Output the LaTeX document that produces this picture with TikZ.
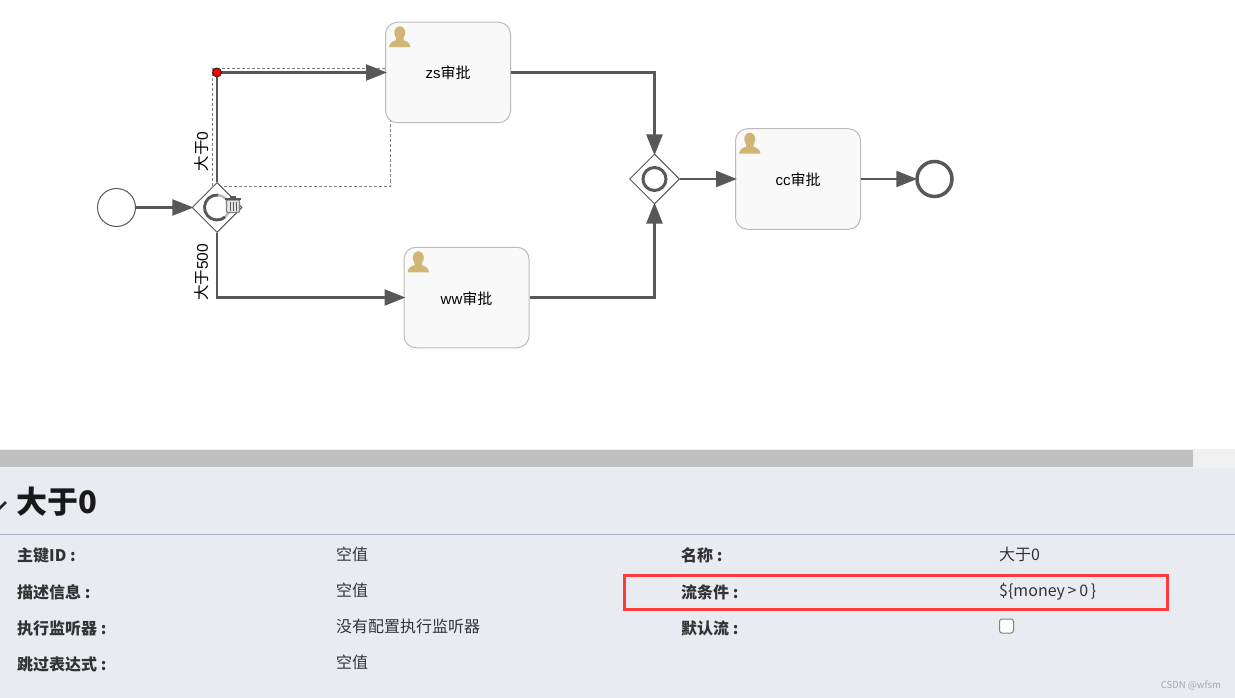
\documentclass[tikz,border=0pt]{standalone}
\usepackage{fontspec}
\setmainfont{Noto Sans CJK SC}
\newfontfamily\arialfont{Liberation Sans}
\usetikzlibrary{arrows.meta,shapes.geometric}
\definecolor{flowgray}{HTML}{585858}
\definecolor{panelbg}{HTML}{E8ECF1}
\definecolor{barbg}{HTML}{BFBFBF}
\definecolor{taskfill}{HTML}{F9F9F9}
\definecolor{taskline}{HTML}{BBBBBB}
\definecolor{usergold}{HTML}{D1B574}
\definecolor{markred}{HTML}{FF3B3B}
\definecolor{textdark}{HTML}{333333}
\definecolor{rulegray}{HTML}{A9ADC0}
\begin{document}
\begin{tikzpicture}[
x=1pt,y=-1pt,
flow/.style={draw=flowgray,line width=2.4pt,shorten >=-2pt,-{Triangle[length=21pt,width=16pt]}},
usertask/.style={draw=taskline,fill=taskfill,line width=1pt,rounded corners=12pt,
  minimum width=125pt,minimum height=100.5pt,text height=14pt,text depth=1pt,
  font=\fontsize{15}{17}\selectfont},
gateway/.style={diamond,aspect=1,draw=flowgray,fill=white,line width=1pt,inner sep=0pt,
  minimum width=50pt,minimum height=50pt},
edgelabel/.style={rotate=90,font=\fontsize{15.5}{17}\selectfont,inner sep=0pt},
fieldname/.style={anchor=base west,inner sep=0pt,text=textdark,font=\fontsize{16}{18}\selectfont\bfseries},
fieldvalue/.style={anchor=base west,inner sep=0pt,text=textdark,font=\fontsize{16}{18}\selectfont},
usericon/.pic={
  \fill[usergold] (14.8,11) ellipse [x radius=5.5,y radius=6.5];
  \fill[usergold] (11,15) -- (18.5,15) -- (18.5,18.5) .. controls (22,19.5) and (25,21) .. (25.5,25.5)
    -- (4,25.5) .. controls (4.5,21) and (7.5,19.5) .. (11,18.5) -- cycle;},
trashicon/.pic={
  \draw[gray,line width=1.2pt,fill=white!80!gray,rounded corners=1pt] (-6.5,-5) rectangle (6.5,7.5);
  \draw[flowgray,line width=1.2pt] (-8,-6) -- (8,-6) (-3,-8) -- (3,-8);
  \foreach \Val in {-3,0,3}
    \draw[flowgray,line width=1pt] (\Val,-3) -- ++(0,9);}
]
\fill[white] (0,0) rectangle (1235,698);
\useasboundingbox (0,0) rectangle (1235,698);

% selection around the upper flow
\draw[gray,line width=.8pt,densely dashed] (212,68) rectangle (390.5,186);

\node[circle,draw=flowgray,fill=white,line width=1pt,minimum size=38pt,inner sep=0pt] (start) at (116.5,207.5) {};
\node[gateway] (gwsplit) at (217,207.5) {};
\node[gateway] (gwjoin) at (654.5,179) {};
\node[usertask] (zs) at (448,72.5) {{\arialfont zs}审批};
\node[usertask] (ww) at (466.5,297.5) {{\arialfont ww}审批};
\node[usertask] (cc) at (798,179) {{\arialfont cc}审批};
\node[circle,draw=flowgray,fill=white,line width=3.5pt,minimum size=35pt,inner sep=0pt] (end) at (934.5,179) {};

\path
  (zs.north west) pic {usericon}
  (ww.north west) pic {usericon}
  (cc.north west) pic {usericon};

\draw[flow,line width=2pt] (start) -- (gwsplit);
\draw[flow] (gwsplit) |- (zs);
\draw[flow] (gwsplit) |- (ww);
\draw[flow] (zs) -| (gwjoin);
\draw[flow] (ww) -| (gwjoin);
\draw[flow] (gwjoin) -- (cc);
\draw[flow] (cc) -- (end);

% gateway marks
\draw[taskline,line width=2.5pt] (gwsplit.center) circle [radius=12.5];
\draw[flowgray,line width=2.8pt] ([shift={(-85:12.5)}]gwsplit.center) arc [start angle=-85,end angle=-310,radius=12.5];
\draw[flowgray,line width=3pt] (gwjoin.center) circle [radius=11.5];
\path (233,205) pic {trashicon};

\node[circle,draw=black,fill=red,line width=.6pt,minimum size=9pt,inner sep=0pt] (bend) at (217,72.5) {};

\node[edgelabel] (lblzero) at (202,151.5) {大于{\arialfont 0}};
\node[edgelabel] (lblfive) at (202,272.5) {大于{\arialfont 500}};

% property panel
\fill[white!94!black] (0,449) rectangle (1235,468);
\fill[barbg] (0,450) rectangle (1193,467);
\fill[panelbg] (0,468) rectangle (1235,698);
\draw[black!85,line width=2.6pt] (-1,509) -- (6,502);
\node[anchor=base west,inner sep=0pt,text=black!90,font=\fontsize{31}{34}\selectfont\bfseries] (title) at (16,513) {大于0};
\draw[rulegray,line width=1pt] (0,534.5) -- (1235,534.5);

\node[fieldname] (idname) at (17,561.5) {主键ID :};
\node[fieldname] (descname) at (17,598) {描述信息 :};
\node[fieldname] (listname) at (17,634.5) {执行监听器 :};
\node[fieldname] (skipname) at (17,670.5) {跳过表达式 :};
\node[fieldvalue] (idvalue) at (336,560) {空值};
\node[fieldvalue] (descvalue) at (336,596) {空值};
\node[fieldvalue] (listvalue) at (336,632) {没有配置执行监听器};
\node[fieldvalue] (skipvalue) at (336,668.5) {空值};
\node[fieldname] (namename) at (681,561.5) {名称 :};
\node[fieldname] (condname) at (681,598) {流条件 :};
\node[fieldname] (defname) at (681,634.5) {默认流 :};
\node[fieldvalue] (namevalue) at (999,560) {大于0};
\node[fieldvalue] (condvalue) at (999,596) {\$\{money\,>\,0\,\}};
\node[draw=gray,fill=white,line width=1pt,rounded corners=2.5pt,minimum size=14pt,inner sep=0pt] (defbox) at (1006.5,626) {};

\draw[markred,line width=3pt] (624,575.5) rectangle (1167,609);
\node[anchor=base east,inner sep=0pt,text=black!35,font=\fontsize{9.5}{10}\selectfont] (mark) at (1221,688.5) {CSDN @wfsm};
\end{tikzpicture}
\end{document}
